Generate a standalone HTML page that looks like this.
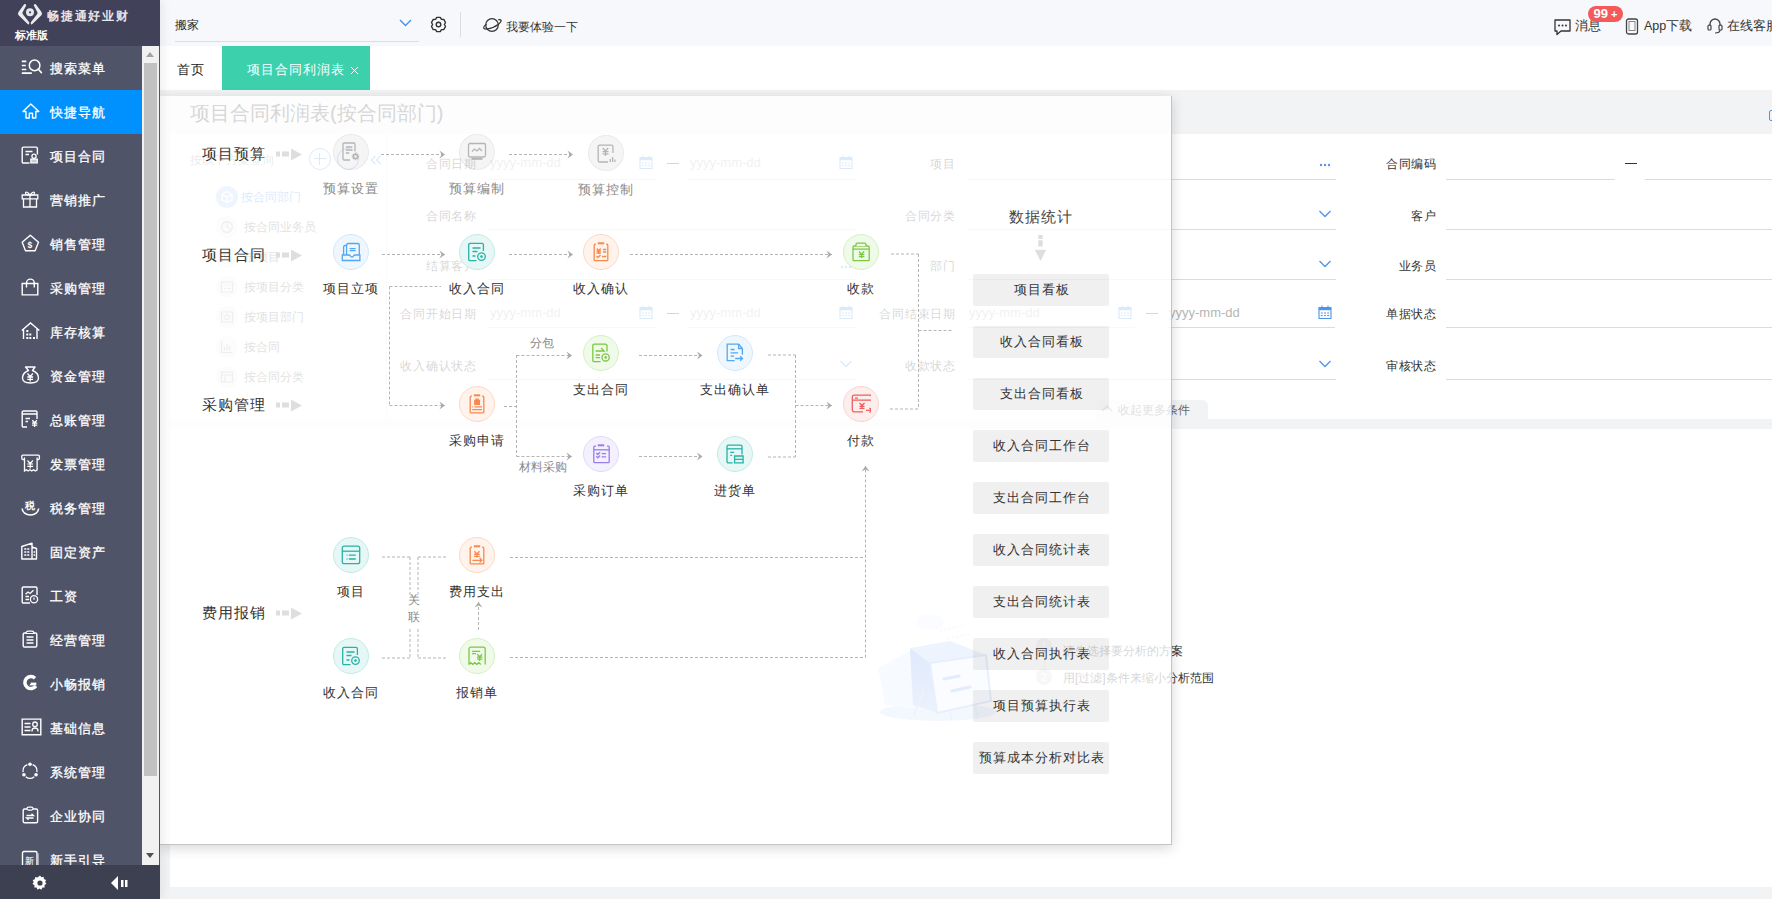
<!DOCTYPE html><html><head><meta charset="utf-8"><title>项目合同利润表</title><style>
*{box-sizing:border-box;margin:0;padding:0}
html,body{width:1772px;height:899px;overflow:hidden;background:#fff;font-family:"Liberation Sans",sans-serif;color:#333}
.a{position:absolute}
.t{position:absolute;white-space:nowrap;line-height:1}
#side{position:absolute;left:0;top:0;width:160px;height:899px;background:#505468;z-index:5;box-shadow:2px 0 10px rgba(0,0,0,0.08)}
#side .hd{position:absolute;left:0;top:0;width:160px;height:46px;background:#41425a}
#side .ft{position:absolute;left:0;top:865px;width:160px;height:34px;background:#3c4050}
.mi{position:absolute;left:0;width:142px;height:44px;color:#fff;font-size:13px;letter-spacing:1px;-webkit-text-stroke:0.3px #fff}
.mi span{position:absolute;left:50px;top:16px;line-height:13px}
.mi svg{position:absolute;left:21px;top:12px;overflow:visible}
.mi.on{background:#0091ff}
#sb{position:absolute;left:142px;top:46px;width:17px;height:819px;background:#f1f1f1}
#top{position:absolute;left:160px;top:0;width:1612px;height:46px;background:#f7f8fb}
#tabs{position:absolute;left:160px;top:46px;width:1612px;height:44px;background:#fff}
#content{position:absolute;left:160px;top:90px;width:1612px;height:809px;background:#f2f3f5}
.lbl{position:absolute;white-space:nowrap;line-height:12px;font-size:12px;letter-spacing:0.7px;color:#333;text-align:right}
.ul{position:absolute;height:1px;background:#dcdcdc}
.ph{position:absolute;white-space:nowrap;line-height:14px;font-size:13px;color:#b5b5b5}
#modal{position:absolute;left:160px;top:96px;width:1012px;height:749px;background:rgba(255,255,255,0.8);border-right:1px solid #c4c4c4;border-bottom:1px solid #c4c4c4;box-shadow:0 3px 12px rgba(0,0,0,0.16);z-index:3}
.node{position:absolute;width:36px;height:36px;border-radius:50%}
.node svg{position:absolute;left:8px;top:8px}
.nl{position:absolute;white-space:nowrap;line-height:14px;font-size:13px;letter-spacing:1px;padding-left:1px;color:#333;text-align:center;width:100px}
.rl{position:absolute;white-space:nowrap;line-height:16px;font-size:15px;letter-spacing:1px;color:#333}
.btn{position:absolute;left:812px;width:136px;height:32px;background:rgba(0,0,0,0.06);border-radius:2px;font-size:13px;letter-spacing:1px;padding-left:1px;color:#333;text-align:center;line-height:32px;white-space:nowrap}
</style></head><body>
<div id="side"><div class="hd">
<svg class="a" style="left:17px;top:3px" width="26" height="22" viewBox="0 0 26 22"><path d="M7.2 1.2Q8.6 0.6 9.3 2.2L5.6 9.2Q5.1 10.3 5.9 11.3L12.3 19.6 12 21.3Q11.3 21.6 10.6 21L1.6 12.2Q0.4 10.6 1.5 8.9z" fill="#ececef"/><path d="M18.8 1.2Q17.4 0.6 16.7 2.2L20.4 9.2Q20.9 10.3 20.1 11.3L13.7 19.6 14 21.3Q14.7 21.6 15.4 21L24.4 12.2Q25.6 10.6 24.5 8.9z" fill="#ececef"/><circle cx="13" cy="9.3" r="4" fill="#e6e6ea"/><circle cx="13" cy="9.3" r="1.1" fill="#41425a"/></svg>
<div class="t" style="left:47px;top:10px;font-size:12px;color:#e6e6ea;font-weight:bold;letter-spacing:1.8px">畅捷通好业财</div>
<div class="t" style="left:15px;top:30px;font-size:10.5px;color:#fff;font-weight:bold">标准版</div>
</div>
<div class="a" style="left:0;top:46px;width:142px;height:819px;overflow:hidden">
<div class="mi" style="top:0px"><svg width="20" height="20" viewBox="0 0 20 20"><path d="M0.8 3.4h4.5M0.8 7.5h4M0.8 11.5h4.5M0.8 15.1h10" stroke="#fff" stroke-width="1.6"/><circle cx="13.6" cy="7.4" r="5.3" fill="none" stroke="#fff" stroke-width="1.5"/><path d="M17.4 11.3l3 3.3" stroke="#fff" stroke-width="1.6" stroke-linecap="round"/></svg><span>搜索菜单</span></div>
<div class="mi on" style="top:44px"><svg width="20" height="20" viewBox="0 0 20 20"><path d="M9.8 2L2 9.5h3V16h3.3v-4.8h3.2V16h3.3V9.5h3z" fill="none" stroke="#fff" stroke-width="1.4" stroke-linejoin="round"/></svg><span>快捷导航</span></div>
<div class="mi" style="top:88px"><svg width="20" height="20" viewBox="0 0 20 20"><path d="M8.5 17H2.5q-1.3 0-1.3-1.3V2.4q0-1.3 1.3-1.3h12.6q1.3 0 1.3 1.3v6" fill="none" stroke="#fff" stroke-width="1.4"/><path d="M4.5 5.5h7M4.5 8.5h3.5" stroke="#fff" stroke-width="1.4"/><circle cx="13" cy="10.2" r="2.1" fill="none" stroke="#fff" stroke-width="1.3"/><path d="M9.8 13.2h6.5v3.6H9.8z" fill="#c9cad3" stroke="#fff" stroke-width="1.2"/></svg><span>项目合同</span></div>
<div class="mi" style="top:132px"><svg width="20" height="20" viewBox="0 0 20 20"><path d="M1.2 5h15.6v3.8H1.2zM2.5 8.8V17h13V8.8M9 5v12" fill="none" stroke="#fff" stroke-width="1.3"/><path d="M9 5C7 2 4.5 1.2 4.5 3.2 4.5 4.5 6.5 5 9 5c2.5 0 4.5-.5 4.5-1.8 0-2-2.5-1.2-4.5 1.8z" fill="none" stroke="#fff" stroke-width="1.2"/></svg><span>营销推广</span></div>
<div class="mi" style="top:176px"><svg width="20" height="20" viewBox="0 0 20 20"><path d="M9.3 1.2L1.2 8.3 4.5 16.8h9.6l3.4-8.5z" fill="none" stroke="#fff" stroke-width="1.4" stroke-linejoin="round"/><text x="9.3" y="13.5" font-size="8.5" text-anchor="middle" fill="#fff" font-family="Liberation Sans" font-weight="bold">$</text></svg><span>销售管理</span></div>
<div class="mi" style="top:220px"><svg width="20" height="20" viewBox="0 0 20 20"><path d="M1.2 5.5h15.6v11.4H1.2z" fill="none" stroke="#fff" stroke-width="1.4"/><path d="M5.5 9.5V5a3.9 3.9 0 0 1 7.8 0v4.5" fill="none" stroke="#fff" stroke-width="1.4"/></svg><span>采购管理</span></div>
<div class="mi" style="top:264px"><svg width="20" height="20" viewBox="0 0 20 20"><path d="M0.8 8.5L9.5 1l8.9 7.5M2.5 7v10M16 7v10" fill="none" stroke="#fff" stroke-width="1.4"/><path d="M5.3 8h2v2h-2zM5.3 11.5h2v2h-2zM8.3 11.5h2v2h-2zM5.3 15h2v2h-2zM8.3 15h2v2h-2zM12 15h2v2h-2z" fill="#fff"/></svg><span>库存核算</span></div>
<div class="mi" style="top:308px"><svg width="20" height="20" viewBox="0 0 20 20"><path d="M4.5 1h9.5l-2.5 3.5c4 1.5 6 4.5 6 7.5 0 3-2 5-8 5s-8-2-8-5c0-3 2-6 6-7.5z" fill="none" stroke="#fff" stroke-width="1.4" stroke-linejoin="round"/><path d="M6.5 7.5l2.7 3 2.7-3M6.3 11h5.8M6.3 13.3h5.8M9.2 10.5v5" fill="none" stroke="#fff" stroke-width="1.3"/></svg><span>资金管理</span></div>
<div class="mi" style="top:352px"><svg width="20" height="20" viewBox="0 0 20 20"><path d="M6 17H2.5q-1.3 0-1.3-1.3V2.3Q1.2 1 2.5 1h12.2Q16 1 16 2.3V9" fill="none" stroke="#fff" stroke-width="1.4"/><path d="M1.2 4h14.8M4.5 8.5h4.5M4.5 11.5h2.5" stroke="#fff" stroke-width="1.3"/><path d="M11.3 10.3l2.3 2.5 2.3-2.5M11 13.2h5.3M11 15.2h5.3M13.6 12.8v4.2" fill="none" stroke="#fff" stroke-width="1.3"/></svg><span>总账管理</span></div>
<div class="mi" style="top:396px"><svg width="20" height="20" viewBox="0 0 20 20"><path d="M3 5.5H1.8q-1-.2-1-1.2V2.2q0-1.1 1-1.1h15.6q1 0 1 1.1v2.1q0 1-1 1.2H16" fill="none" stroke="#fff" stroke-width="1.3"/><path d="M3.5 3.5v13.5l1.8-1.2 1.8 1.2 1.8-1.2 1.8 1.2 1.8-1.2 1.8 1.2 1.8-1.2V3.5" fill="none" stroke="#fff" stroke-width="1.3"/><path d="M6.5 6.5l2.7 3 2.7-3M6.3 10h5.8M6.3 12.3h5.8M9.2 9.5v5" fill="none" stroke="#fff" stroke-width="1.2"/></svg><span>发票管理</span></div>
<div class="mi" style="top:440px"><svg width="20" height="20" viewBox="0 0 20 20"><path d="M1.2 10.5a8.2 6.5 0 0 0 16.4 0" fill="none" stroke="#fff" stroke-width="1.6"/><text x="9.4" y="10.5" font-size="10" text-anchor="middle" fill="#fff" font-weight="bold">税</text></svg><span>税务管理</span></div>
<div class="mi" style="top:484px"><svg width="20" height="20" viewBox="0 0 20 20"><path d="M0.8 4.5L11 1.2V17H0.8zM11 5l4.5 1.5V17H11" fill="none" stroke="#fff" stroke-width="1.4" stroke-linejoin="round"/><path d="M3.3 6.2h2v1.6h-2zM6.3 6.2h2v1.6h-2zM3.3 9.2h2v1.6h-2zM6.3 9.2h2v1.6h-2zM3.3 12.2h2v1.6h-2zM6.3 12.2h2v1.6h-2zM12.5 9.2h1.6v1.6h-1.6zM12.5 12.2h1.6v1.6h-1.6z" fill="#fff"/></svg><span>固定资产</span></div>
<div class="mi" style="top:528px"><svg width="20" height="20" viewBox="0 0 20 20"><path d="M9 17H2.5q-1.3 0-1.3-1.3V2.3Q1.2 1 2.5 1h12.2Q16 1 16 2.3V9" fill="none" stroke="#fff" stroke-width="1.4"/><path d="M4.5 8.2l2.5-2.2 2 1.5 3.5-3.2M4.5 10.5h3.5M4.5 13.5h3.5" fill="none" stroke="#fff" stroke-width="1.3"/><circle cx="13" cy="13.3" r="3.6" fill="#505468" stroke="#fff" stroke-width="1.3"/><path d="M13 11.6v2.2" stroke="#fff" stroke-width="1.2"/></svg><span>工资</span></div>
<div class="mi" style="top:572px"><svg width="20" height="20" viewBox="0 0 20 20"><path d="M5 3H3.5q-1.3 0-1.3 1.3v11.4q0 1.3 1.3 1.3h11q1.3 0 1.3-1.3V4.3Q15.8 3 14.5 3H13" fill="none" stroke="#fff" stroke-width="1.4"/><path d="M5 3.5q0-2.3 2-2.3h4q2 0 2 2.3z" fill="none" stroke="#fff" stroke-width="1.2"/><path d="M5.5 7h7M5.5 10h7M5.5 13h7" stroke="#fff" stroke-width="1.4"/></svg><span>经营管理</span></div>
<div class="mi" style="top:616px"><svg width="20" height="20" viewBox="0 0 20 20"><path d="M14 4.2A6 6 0 1 0 14.8 12" fill="none" stroke="#fff" stroke-width="3.6"/><path d="M8.5 10h6.8" stroke="#fff" stroke-width="2.8"/><path d="M5.8 9l2.2-2.2 2.2 2.2-2.2 2.2z" fill="#505468"/></svg><span>小畅报销</span></div>
<div class="mi" style="top:660px"><svg width="20" height="20" viewBox="0 0 20 20"><path d="M1.2 1.1h18.6v15.6H1.2z" fill="none" stroke="#fff" stroke-width="1.4"/><path d="M3.5 5.5h6M3.5 9h6M3.5 12.5h6" stroke="#fff" stroke-width="1.4"/><circle cx="14" cy="6.3" r="2.3" fill="none" stroke="#fff" stroke-width="1.3"/><path d="M11 13.5v-.5q0-3 3-3t3 3v.5" fill="none" stroke="#fff" stroke-width="1.3"/></svg><span>基础信息</span></div>
<div class="mi" style="top:704px"><svg width="20" height="20" viewBox="0 0 20 20"><path d="M11.62 2.71A7 7 0 0 1 15.93 10.17M13.31 14.72A7 7 0 0 1 4.69 14.72M2.07 10.17A7 7 0 0 1 6.38 2.71" fill="none" stroke="#fff" stroke-width="1.3"/><circle cx="9" cy="2.2" r="1.8" fill="#fff"/><circle cx="2.94" cy="12.7" r="1.8" fill="#fff"/><circle cx="15.06" cy="12.7" r="1.8" fill="#fff"/></svg><span>系统管理</span></div>
<div class="mi" style="top:748px"><svg width="20" height="20" viewBox="0 0 20 20"><path d="M6 3H3.5q-1.3 0-1.3 1.3v11.2q0 1.2 1.3 1.2h11.8q1.3 0 1.3-1.2V4.3Q16.6 3 15.3 3H12" fill="none" stroke="#fff" stroke-width="1.4"/><path d="M7.5 1.1h3q1.5 0 1.5 1.5t-1.5 1.5h-3Q6 4.1 6 2.6t1.5-1.5z" fill="none" stroke="#fff" stroke-width="1.2"/><path d="M5.5 9.5h7l-2-1.8M12.5 12h-7l2 1.8" fill="none" stroke="#fff" stroke-width="1.3"/></svg><span>企业协同</span></div>
<div class="mi" style="top:792px"><svg width="20" height="20" viewBox="0 0 20 20"><path d="M3 1.5h11.5q1.5 0 1.5 1.5v14H3q-1.5 0-1.5-1.5V3q0-1.5 1.5-1.5z" fill="none" stroke="#fff" stroke-width="1.4"/><path d="M16 3.5h1.2v14" fill="none" stroke="#c9cad3" stroke-width="1"/><text x="8.8" y="13.5" font-size="8.5" text-anchor="middle" fill="#d8d9e0" font-weight="bold">新</text></svg><span>新手引导</span></div>
</div>
<div id="sb"><div class="a" style="left:2px;top:17px;width:13px;height:713px;background:#c1c1c1"></div>
<svg class="a" style="left:3px;top:5px" width="10" height="6"><path d="M1 6L5 1l4 5z" fill="#a3a3a3"/></svg>
<svg class="a" style="left:3px;top:807px" width="10" height="6"><path d="M1 0h8L5 5z" fill="#505050"/></svg></div>
<div class="ft">
<svg class="a" style="left:32px;top:10px" width="16" height="16" viewBox="0 0 16 16"><path d="M8 0.5l1.4 1.8 2.2-.6.3 2.3 2.2.9-1 2.1 1.3 1.8-1.9 1.3.2 2.3-2.3.2-1 2.1-1.9-1.3-1.9 1.3-1-2.1-2.3-.2.2-2.3L.4 9l1.3-1.8-1-2.1 2.2-.9.3-2.3 2.2.6z" fill="#fff"/><circle cx="8" cy="8" r="2.6" fill="#3c4050"/></svg>
<svg class="a" style="left:110px;top:10px" width="20" height="16" viewBox="0 0 20 16"><path d="M1 8L8 1v14z" fill="#fff"/><path d="M11 5h2.5v7H11zM15 5h2.5v7H15z" fill="#fff"/></svg>
</div></div>
<div id="top">
<div class="t" style="left:15px;top:19px;font-size:12px;color:#222">搬家</div>
<div class="a" style="left:15px;top:41px;width:244px;height:1px;background:#dcdde2"></div>
<svg class="a" style="left:239px;top:19px" width="13" height="8" viewBox="0 0 13 8"><path d="M1 1l5.5 5.5L12 1" fill="none" stroke="#4a90e2" stroke-width="1.4"/></svg>
<svg class="a" style="left:270px;top:16px" width="17" height="17" viewBox="0 0 17 17"><path d="M5.55 3.39 L6.73 1.42 L10.27 1.42 L11.45 3.39 L13.75 3.43 L15.52 6.49 L14.40 8.50 L15.52 10.51 L13.75 13.57 L11.45 13.61 L10.27 15.58 L6.73 15.58 L5.55 13.61 L3.25 13.57 L1.48 10.51 L2.60 8.50 L1.48 6.49 L3.25 3.43z" fill="none" stroke="#333" stroke-width="1.4" stroke-linejoin="round"/><circle cx="8.5" cy="8.5" r="2.3" fill="none" stroke="#333" stroke-width="1.4"/></svg>
<div class="a" style="left:300px;top:12px;width:1px;height:25px;background:#dcdde2"></div>
<svg class="a" style="left:322px;top:17px" width="21" height="16" viewBox="0 0 21 16"><circle cx="10" cy="8" r="6.3" fill="none" stroke="#333" stroke-width="1.2"/><path d="M4.2 7.5C0.5 10 0.8 12.5 5 12c3.5-.4 8.5-2.5 11.5-4.8 3.5-2.7 3.6-4.8.2-4.6" fill="none" stroke="#333" stroke-width="1.2" stroke-linecap="round"/></svg>
<div class="t" style="left:346px;top:20.5px;font-size:12px;color:#333">我要体验一下</div>
<svg class="a" style="left:1394px;top:19px" width="17" height="17" viewBox="0 0 17 17"><path d="M1 1h15v11H7l-4 3.5V12H1z" fill="none" stroke="#333" stroke-width="1.3" stroke-linejoin="round"/><circle cx="5" cy="6.5" r="1" fill="#333"/><circle cx="8.5" cy="6.5" r="1" fill="#333"/><circle cx="12" cy="6.5" r="1" fill="#333"/></svg>
<div class="t" style="left:1415px;top:20px;font-size:12.5px;color:#333">消息</div>
<div class="a" style="left:1428px;top:6px;width:35px;height:16px;border-radius:8px;background:#f45a5a;color:#fff;font-size:11px;font-weight:bold;line-height:16px;text-align:center;white-space:nowrap"><span style="font-size:13px">99</span> <span style="font-size:11px">+</span></div>
<svg class="a" style="left:1465px;top:18px" width="14" height="17" viewBox="0 0 14 17"><rect x="1.5" y="1" width="11" height="15" rx="2" fill="none" stroke="#444" stroke-width="1.3"/><rect x="4" y="3.5" width="6" height="9" fill="none" stroke="#888" stroke-width="1"/></svg>
<div class="t" style="left:1484px;top:20px;font-size:12.5px;color:#333">App下载</div>
<svg class="a" style="left:1547px;top:17px" width="16" height="17" viewBox="0 0 16 17"><path d="M3 9V7a5 5 0 0 1 10 0v2" fill="none" stroke="#444" stroke-width="1.3"/><rect x="1" y="8" width="3" height="5" rx="1" fill="none" stroke="#444" stroke-width="1.2"/><rect x="12" y="8" width="3" height="5" rx="1" fill="none" stroke="#444" stroke-width="1.2"/><path d="M13 13c0 2-2 3-5 3" fill="none" stroke="#444" stroke-width="1.2"/></svg>
<div class="t" style="left:1567px;top:20px;font-size:12.5px;color:#333">在线客服</div>
</div>
<div id="tabs">
<div class="t" style="left:17px;top:16.5px;font-size:13px;letter-spacing:1px;color:#222">首页</div>
<div class="a" style="left:62px;top:0;width:148px;height:44px;background:#3dd0ac"></div>
<div class="t" style="left:87px;top:16.5px;font-size:13px;letter-spacing:1px;color:#fff">项目合同利润表</div>
<svg class="a" style="left:190px;top:20px" width="9" height="9" viewBox="0 0 9 9"><path d="M1 1l7 7M8 1L1 8" stroke="#fff" stroke-width="1"/></svg>
</div>
<div id="content">
<div class="t" style="left:30px;top:13px;font-size:20px;color:#333">项目合同利润表(按合同部门)</div>
<div class="a" style="left:1609px;top:20px;width:8px;height:11px;border:1.5px solid #4d94ea;border-radius:2px"></div>
<div class="a" style="left:10px;top:44px;width:1602px;height:285px;background:#fff"></div>
<div class="a" style="left:10px;top:339px;width:1602px;height:458px;background:#fff"></div>
<div class="t" style="left:30px;top:63.5px;font-size:12px;line-height:12px;color:#999">按以下方案查询</div>
<div class="a" style="left:149px;top:58px;width:22px;height:22px;border-radius:50%;border:1px solid #4a90e2"></div>
<div class="a" style="left:154px;top:68px;width:12px;height:1px;background:#4a90e2"></div><div class="a" style="left:159px;top:63px;width:1px;height:12px;background:#4a90e2"></div>
<div class="a" style="left:177px;top:58px;width:22px;height:22px;border-radius:50%;border:1px solid #4a90e2"></div>
<svg class="a" style="left:210px;top:65px" width="12" height="10" viewBox="0 0 12 10"><path d="M5.5 1L1.5 5l4 4M10.5 1l-4 4 4 4" fill="none" stroke="#4a90e2" stroke-width="1.1"/></svg>
<div class="a" style="left:226px;top:44px;width:1px;height:285px;background:#e8e8e8"></div>
<div class="a" style="left:56px;top:96px;width:22px;height:22px;border-radius:50%;background:#a9cdf6"></div>
<svg class="a" style="left:60px;top:100px" width="14" height="14" viewBox="0 0 14 14"><path d="M7 1.5l5 2.8v5.6L7 12.5 2 9.9V4.3z M2 4.3l5 2.8 5-2.8 M7 7.1v5.4" fill="none" stroke="#fff" stroke-width="1.4"/></svg>
<div class="t" style="left:81px;top:101px;font-size:12px;color:#4a90e2;line-height:12px">按合同部门</div>
<div class="a" style="left:56px;top:126px;width:22px;height:22px;border-radius:50%;background:#eeeeee"></div>
<svg class="a" style="left:60px;top:130px" width="14" height="14" viewBox="0 0 14 14"><circle cx="7" cy="7" r="5.3" fill="none" stroke="#aaa" stroke-width="1.2"/><path d="M7 7V1.7M7 7l3.5 2" fill="none" stroke="#aaa" stroke-width="1.2"/></svg>
<div class="t" style="left:84px;top:131px;font-size:12px;color:#666;line-height:12px">按合同业务员</div>
<div class="a" style="left:56px;top:156px;width:22px;height:22px;border-radius:50%;background:#eeeeee"></div>
<svg class="a" style="left:60px;top:160px" width="14" height="14" viewBox="0 0 14 14"><circle cx="7" cy="5" r="2.5" fill="none" stroke="#aaa" stroke-width="1.2"/><path d="M2.5 12.5c0-3 2-4.5 4.5-4.5s4.5 1.5 4.5 4.5" fill="none" stroke="#aaa" stroke-width="1.2"/></svg>
<div class="t" style="left:84px;top:161px;font-size:12px;color:#666;line-height:12px">按项目</div>
<div class="a" style="left:56px;top:186px;width:22px;height:22px;border-radius:50%;background:#eeeeee"></div>
<svg class="a" style="left:60px;top:190px" width="14" height="14" viewBox="0 0 14 14"><path d="M1.5 2h11v10h-11z M4 5h1.5M4 8.5h1.5M7 5h3M7 8.5h3" fill="none" stroke="#aaa" stroke-width="1.2"/></svg>
<div class="t" style="left:84px;top:191px;font-size:12px;color:#666;line-height:12px">按项目分类</div>
<div class="a" style="left:56px;top:216px;width:22px;height:22px;border-radius:50%;background:#eeeeee"></div>
<svg class="a" style="left:60px;top:220px" width="14" height="14" viewBox="0 0 14 14"><path d="M1.5 2h11v10h-11z" fill="none" stroke="#aaa" stroke-width="1.2"/><path d="M7 3.8l1 2.1 2.2.3-1.6 1.5.4 2.2L7 8.9 5 9.9l.4-2.2L3.8 6.2 6 5.9z" fill="none" stroke="#aaa" stroke-width="1"/></svg>
<div class="t" style="left:84px;top:221px;font-size:12px;color:#666;line-height:12px">按项目部门</div>
<div class="a" style="left:56px;top:246px;width:22px;height:22px;border-radius:50%;background:#eeeeee"></div>
<svg class="a" style="left:60px;top:250px" width="14" height="14" viewBox="0 0 14 14"><path d="M1.5 1.5v11h11 M4.5 10.5V7M7 10.5V4.5M9.5 10.5V6" fill="none" stroke="#aaa" stroke-width="1.2"/></svg>
<div class="t" style="left:84px;top:251px;font-size:12px;color:#666;line-height:12px">按合同</div>
<div class="a" style="left:56px;top:276px;width:22px;height:22px;border-radius:50%;background:#eeeeee"></div>
<svg class="a" style="left:60px;top:280px" width="14" height="14" viewBox="0 0 14 14"><path d="M1.5 2h11v10h-11z M1.5 5h11M5 5v7" fill="none" stroke="#aaa" stroke-width="1.2"/></svg>
<div class="t" style="left:84px;top:281px;font-size:12px;color:#666;line-height:12px">按合同分类</div>
<div class="lbl" style="left:116px;top:68px;width:200.7px">合同日期</div>
<div class="lbl" style="left:116px;top:120px;width:200.7px">合同名称</div>
<div class="lbl" style="left:116px;top:170px;width:200.7px">结算客户</div>
<div class="lbl" style="left:116px;top:218px;width:200.7px">合同开始日期</div>
<div class="lbl" style="left:116px;top:270px;width:200.7px">收入确认状态</div>
<div class="lbl" style="left:595px;top:68px;width:200.7px">项目</div>
<div class="lbl" style="left:595px;top:120px;width:200.7px">合同分类</div>
<div class="lbl" style="left:595px;top:170px;width:200.7px">部门</div>
<div class="lbl" style="left:595px;top:218px;width:200.7px">合同结束日期</div>
<div class="lbl" style="left:595px;top:270px;width:200.7px">收款状态</div>
<div class="lbl" style="left:1076px;top:68px;width:200.7px">合同编码</div>
<div class="lbl" style="left:1076px;top:120px;width:200.7px">客户</div>
<div class="lbl" style="left:1076px;top:170px;width:200.7px">业务员</div>
<div class="lbl" style="left:1076px;top:218px;width:200.7px">单据状态</div>
<div class="lbl" style="left:1076px;top:270px;width:200.7px">审核状态</div>
<div class="ph" style="left:330px;top:66px">yyyy-mm-dd</div>
<div class="a" style="left:479px;top:65px;line-height:0"><svg width="14" height="14" viewBox="0 0 14 14"><path d="M1 2.5h12v11H1z" fill="none" stroke="#4d94ea" stroke-width="1.1"/><path d="M1 3h12v2.2H1z" fill="#4d94ea"/><path d="M4 0.5v3M10 0.5v3M2.8 8h2M6 8h2M9.2 8h2M2.8 10.6h2M6 10.6h2M9.2 10.6h2" stroke="#4d94ea" stroke-width="1"/></svg></div>
<div class="ul" style="left:328px;top:89px;width:168px"></div>
<div class="a" style="left:507px;top:73px;width:12px;height:1px;background:#333"></div>
<div class="ph" style="left:530px;top:66px">yyyy-mm-dd</div>
<div class="a" style="left:679px;top:65px;line-height:0"><svg width="14" height="14" viewBox="0 0 14 14"><path d="M1 2.5h12v11H1z" fill="none" stroke="#4d94ea" stroke-width="1.1"/><path d="M1 3h12v2.2H1z" fill="#4d94ea"/><path d="M4 0.5v3M10 0.5v3M2.8 8h2M6 8h2M9.2 8h2M2.8 10.6h2M6 10.6h2M9.2 10.6h2" stroke="#4d94ea" stroke-width="1"/></svg></div>
<div class="ul" style="left:528px;top:89px;width:168px"></div>
<div class="ul" style="left:807px;top:89px;width:369px"></div>
<div class="a" style="left:1158px;top:72px;line-height:0"><svg width="14" height="4" viewBox="0 0 14 4"><circle cx="3" cy="2" r="1.2" fill="#5b8ff0"/><circle cx="7" cy="2" r="1.2" fill="#5b8ff0"/><circle cx="11" cy="2" r="1.2" fill="#5b8ff0"/></svg></div>
<div class="ul" style="left:1286px;top:89px;width:169px"></div>
<div class="ul" style="left:1485px;top:89px;width:127px"></div>
<div class="a" style="left:1465px;top:73px;width:12px;height:1px;background:#333"></div>
<div class="ul" style="left:328px;top:139px;width:368px"></div>
<div class="ul" style="left:807px;top:139px;width:369px"></div>
<div class="a" style="left:1158px;top:120px;line-height:0"><svg width="14" height="8" viewBox="0 0 14 8"><path d="M1.5 1l5.5 5.5 5.5-5.5" fill="none" stroke="#4d94ea" stroke-width="1.3"/></svg></div>
<div class="ul" style="left:1286px;top:139px;width:326px"></div>
<div class="ul" style="left:328px;top:189px;width:368px"></div>
<div class="a" style="left:679px;top:174px;line-height:0"><svg width="14" height="4" viewBox="0 0 14 4"><circle cx="3" cy="2" r="1.2" fill="#5b8ff0"/><circle cx="7" cy="2" r="1.2" fill="#5b8ff0"/><circle cx="11" cy="2" r="1.2" fill="#5b8ff0"/></svg></div>
<div class="ul" style="left:807px;top:189px;width:369px"></div>
<div class="a" style="left:1158px;top:170px;line-height:0"><svg width="14" height="8" viewBox="0 0 14 8"><path d="M1.5 1l5.5 5.5 5.5-5.5" fill="none" stroke="#4d94ea" stroke-width="1.3"/></svg></div>
<div class="ul" style="left:1286px;top:189px;width:326px"></div>
<div class="ph" style="left:330px;top:216px">yyyy-mm-dd</div>
<div class="a" style="left:479px;top:215px;line-height:0"><svg width="14" height="14" viewBox="0 0 14 14"><path d="M1 2.5h12v11H1z" fill="none" stroke="#4d94ea" stroke-width="1.1"/><path d="M1 3h12v2.2H1z" fill="#4d94ea"/><path d="M4 0.5v3M10 0.5v3M2.8 8h2M6 8h2M9.2 8h2M2.8 10.6h2M6 10.6h2M9.2 10.6h2" stroke="#4d94ea" stroke-width="1"/></svg></div>
<div class="ul" style="left:328px;top:237px;width:168px"></div>
<div class="a" style="left:507px;top:223px;width:12px;height:1px;background:#333"></div>
<div class="ph" style="left:530px;top:216px">yyyy-mm-dd</div>
<div class="a" style="left:679px;top:215px;line-height:0"><svg width="14" height="14" viewBox="0 0 14 14"><path d="M1 2.5h12v11H1z" fill="none" stroke="#4d94ea" stroke-width="1.1"/><path d="M1 3h12v2.2H1z" fill="#4d94ea"/><path d="M4 0.5v3M10 0.5v3M2.8 8h2M6 8h2M9.2 8h2M2.8 10.6h2M6 10.6h2M9.2 10.6h2" stroke="#4d94ea" stroke-width="1"/></svg></div>
<div class="ul" style="left:528px;top:237px;width:168px"></div>
<div class="ph" style="left:809px;top:216px">yyyy-mm-dd</div>
<div class="a" style="left:958px;top:215px;line-height:0"><svg width="14" height="14" viewBox="0 0 14 14"><path d="M1 2.5h12v11H1z" fill="none" stroke="#4d94ea" stroke-width="1.1"/><path d="M1 3h12v2.2H1z" fill="#4d94ea"/><path d="M4 0.5v3M10 0.5v3M2.8 8h2M6 8h2M9.2 8h2M2.8 10.6h2M6 10.6h2M9.2 10.6h2" stroke="#4d94ea" stroke-width="1"/></svg></div>
<div class="ul" style="left:807px;top:237px;width:168px"></div>
<div class="a" style="left:986px;top:223px;width:12px;height:1px;background:#333"></div>
<div class="ph" style="left:1009px;top:216px">yyyy-mm-dd</div>
<div class="a" style="left:1158px;top:215px;line-height:0"><svg width="14" height="14" viewBox="0 0 14 14"><path d="M1 2.5h12v11H1z" fill="none" stroke="#4d94ea" stroke-width="1.1"/><path d="M1 3h12v2.2H1z" fill="#4d94ea"/><path d="M4 0.5v3M10 0.5v3M2.8 8h2M6 8h2M9.2 8h2M2.8 10.6h2M6 10.6h2M9.2 10.6h2" stroke="#4d94ea" stroke-width="1"/></svg></div>
<div class="ul" style="left:1007px;top:237px;width:168px"></div>
<div class="ul" style="left:1286px;top:237px;width:326px"></div>
<div class="ul" style="left:328px;top:289px;width:368px"></div>
<div class="a" style="left:679px;top:270px;line-height:0"><svg width="14" height="8" viewBox="0 0 14 8"><path d="M1.5 1l5.5 5.5 5.5-5.5" fill="none" stroke="#4d94ea" stroke-width="1.3"/></svg></div>
<div class="ul" style="left:807px;top:289px;width:369px"></div>
<div class="a" style="left:1158px;top:270px;line-height:0"><svg width="14" height="8" viewBox="0 0 14 8"><path d="M1.5 1l5.5 5.5 5.5-5.5" fill="none" stroke="#4d94ea" stroke-width="1.3"/></svg></div>
<div class="ul" style="left:1286px;top:289px;width:326px"></div>
<div class="a" style="left:936px;top:310px;width:112px;height:20px;background:#f2f3f5;border-radius:6px 6px 0 0"></div>
<svg class="a" style="left:941px;top:314px" width="12" height="8" viewBox="0 0 12 8"><path d="M1 7l5-5 5 5M1 4" fill="none" stroke="#999" stroke-width="1.2"/></svg>
<div class="t" style="left:958px;top:314px;font-size:12px;color:#666">收起更多条件</div>
<svg class="a" style="left:710px;top:515px" width="135" height="120" viewBox="870 605 135 120"><defs><linearGradient id="gl" x1="0" y1="0" x2="0" y2="1"><stop offset="0" stop-color="#5f93ee"/><stop offset="1" stop-color="#9fbff4"/></linearGradient></defs><ellipse cx="938" cy="712" rx="58" ry="9" fill="#c3d8fa"/><path d="M878 668L912 650 935 712 885 705z" fill="#d5e4fb"/><path d="M910 648L950 641 986 655 930 663z" fill="#a9c6f5"/><path d="M910 648L930 663 937 713 913 705z" fill="url(#gl)"/><path d="M930 663L986 655 991 701 937 713z" fill="#e6effd" stroke="#8db3f2" stroke-width="2"/><path d="M944 679l15-3M952 691l18-4" stroke="#6f9ff0" stroke-width="3" stroke-linecap="round"/><path d="M924 690l-10 25M975 705l3 14M950 712l2 8" stroke="#a6c3f4" stroke-width="2"/><path d="M940 631l25-6M948 639l22-5" stroke="#c9dbf9" stroke-width="1.5" stroke-dasharray="2 2"/><ellipse cx="930" cy="622" rx="14" ry="8" fill="#e6effd"/></svg>
<div class="a" style="left:884px;top:562px;width:1px;height:18px;background:#ddd"></div>
<div class="a" style="left:876px;top:548px;width:16px;height:16px;border-radius:50%;background:#d5d5d5;color:#fff;font-size:11px;line-height:16px;text-align:center">1</div>
<div class="a" style="left:876px;top:579px;width:16px;height:16px;border-radius:50%;background:#d5d5d5;color:#fff;font-size:11px;line-height:16px;text-align:center">2</div>
<div class="t" style="left:903px;top:555px;font-size:12px;color:#333">请先选择要分析的方案</div>
<div class="t" style="left:903px;top:582px;font-size:12px;color:#333">用[过滤]条件来缩小分析范围</div>
</div>
<div id="modal">
<svg class="a" style="left:0;top:0" width="1012" height="749" viewBox="160 96 1012 749"><g fill="none" stroke="#b4b4b4" stroke-width="1" stroke-dasharray="3 2"><path d="M381 154.5H445"/><path d="M509 154.5H573"/><path d="M382 254.5H445"/><path d="M509 254.5H573"/><path d="M630 254.5H832"/><path d="M891 254H918.5"/><path d="M918.5 254V409"/><path d="M890 409H918.5"/><path d="M918.5 330.5H952"/><path d="M389.5 286.5H441"/><path d="M389.5 286.5V405.5"/><path d="M389.5 405.5H445"/><path d="M504 406.5H516.5"/><path d="M516.5 355V456.5"/><path d="M516.5 355.5H572"/><path d="M516.5 456.5H572"/><path d="M639 355.5H702.5"/><path d="M639 456.5H702.5"/><path d="M768 355H795.5"/><path d="M795.5 355V457"/><path d="M768 457H795.5"/><path d="M795.5 405.5H832"/><path d="M382 557H410"/><path d="M410 557V597"/><path d="M410 629V658"/><path d="M382 658H410"/><path d="M418 557H446"/><path d="M418 557V597"/><path d="M418 629V658"/><path d="M418 658H446"/><path d="M478.5 630V602"/><path d="M510 557.5H865.5"/><path d="M510 657.5H865.5"/><path d="M865.5 657.5V466"/></g><g fill="#aaa" stroke="none"><path d="M439.5 150.5L445 154.5L439.5 158.5L441.5 154.5z"/><path d="M567.5 150.5L573 154.5L567.5 158.5L569.5 154.5z"/><path d="M439.5 250.5L445 254.5L439.5 258.5L441.5 254.5z"/><path d="M567.5 250.5L573 254.5L567.5 258.5L569.5 254.5z"/><path d="M826.5 250.5L832 254.5L826.5 258.5L828.5 254.5z"/><path d="M439.5 401.5L445 405.5L439.5 409.5L441.5 405.5z"/><path d="M566.5 351.5L572 355.5L566.5 359.5L568.5 355.5z"/><path d="M566.5 452.5L572 456.5L566.5 460.5L568.5 456.5z"/><path d="M697.0 351.5L702.5 355.5L697.0 359.5L699.0 355.5z"/><path d="M697.0 452.5L702.5 456.5L697.0 460.5L699.0 456.5z"/><path d="M826.5 401.5L832 405.5L826.5 409.5L828.5 405.5z"/><path d="M474.5 607.5L478.5 602L482.5 607.5L478.5 605.5z"/><path d="M861.5 471.5L865.5 466L869.5 471.5L865.5 469.5z"/></g></svg>
<div class="rl" style="left:42px;top:49.5px">项目预算</div>
<svg class="a" style="left:115px;top:51.5px" width="28" height="13" viewBox="0 0 28 13"><path d="M1 3.5h4v5H1zM7 3.5h7v5H7zM16 0.5l11 6-11 6z" fill="#dedede"/></svg>
<div class="rl" style="left:42px;top:151px">项目合同</div>
<svg class="a" style="left:115px;top:153px" width="28" height="13" viewBox="0 0 28 13"><path d="M1 3.5h4v5H1zM7 3.5h7v5H7zM16 0.5l11 6-11 6z" fill="#dedede"/></svg>
<div class="rl" style="left:42px;top:301px">采购管理</div>
<svg class="a" style="left:115px;top:303px" width="28" height="13" viewBox="0 0 28 13"><path d="M1 3.5h4v5H1zM7 3.5h7v5H7zM16 0.5l11 6-11 6z" fill="#dedede"/></svg>
<div class="rl" style="left:42px;top:509px">费用报销</div>
<svg class="a" style="left:115px;top:511px" width="28" height="13" viewBox="0 0 28 13"><path d="M1 3.5h4v5H1zM7 3.5h7v5H7zM16 0.5l11 6-11 6z" fill="#dedede"/></svg>
<div class="node" style="left:172.5px;top:38px;background:rgba(0,0,0,0.04);border:1px solid rgba(0,0,0,0.05)"><svg width="20" height="20" viewBox="0 0 20 20" style="left:7px;top:7px;color:#b5b5b5" fill="none" stroke="#b5b5b5" stroke-width="1.3"><path d="M9 18H3.2Q2 18 2 16.8V2.2Q2 1 3.2 1h9.6Q14 1 14 2.2V9"/><path d="M4.8 5h6.5M4.8 8h6.5M4.8 11h3.5"/><circle cx="14.5" cy="14.5" r="2"/><path d="M14.5 10.8v1.4M14.5 16.8v1.4M10.8 14.5h1.4M16.8 14.5h1.4M11.9 11.9l1 1M16.1 16.1l1 1M17.1 11.9l-1 1M12.9 16.1l-1 1"/></svg></div>
<div class="nl" style="left:140.5px;top:86px;color:#888">预算设置</div>
<div class="node" style="left:298.5px;top:38px;background:rgba(0,0,0,0.04);border:1px solid rgba(0,0,0,0.05)"><svg width="20" height="20" viewBox="0 0 20 20" style="left:7px;top:7px;color:#b5b5b5" fill="none" stroke="#b5b5b5" stroke-width="1.3"><path d="M3 1.5h14q1.5 0 1.5 1.5v10.5q0 1.5-1.5 1.5H3q-1.5 0-1.5-1.5V3q0-1.5 1.5-1.5z"/><path d="M4.5 16.8h11" stroke-width="2"/><path d="M5 9.5l2.5-2.5 2.5 2 2.5-2.5 2.5 2.5"/></svg></div>
<div class="nl" style="left:266.5px;top:86px;color:#888">预算编制</div>
<div class="node" style="left:427.5px;top:38.5px;background:rgba(0,0,0,0.04);border:1px solid rgba(0,0,0,0.05)"><svg width="20" height="20" viewBox="0 0 20 20" style="left:7px;top:7px;color:#b5b5b5" fill="none" stroke="#b5b5b5" stroke-width="1.3"><path d="M12 19H3.7Q2.2 19 2.2 17.5V3.7q0-1.5 1.5-1.5h11.8q1.5 0 1.5 1.5V10"/><path d="M6.8 5l2.7 3 2.7-3M6.5 8.7h6M6.5 10.9h6M9.5 8.5v4.5"/><path d="M14.3 19v-3M16.6 19v-5M18.9 19v-2.5"/></svg></div>
<div class="nl" style="left:395.5px;top:86.5px;color:#888">预算控制</div>
<div class="node" style="left:172.5px;top:138px;background:#eef6fe;border:1px solid #d4e8fb"><svg width="20" height="20" viewBox="0 0 20 20" style="left:7px;top:7px;color:#55a8f0" fill="none" stroke="#55a8f0" stroke-width="1.3"><path d="M5.6 3.5H4.1Q2.6 3.5 2.6 5v8"/><path d="M5.6 13V3q0-1.5 1.5-1.5h9.7q1.5 0 1.5 1.5v10"/><path d="M8.6 6.6h6M8.6 8.6h6"/><path d="M1.3 13h6.6q1 0 1.5 1t1.6 1q1 0 1.5-1t1.5-1h4.9v5.5H1.3z"/></svg></div>
<div class="nl" style="left:140.5px;top:186px;color:#333">项目立项</div>
<div class="node" style="left:298.5px;top:138px;background:#e6f7f5;border:1px solid #c3ebe5"><svg width="20" height="20" viewBox="0 0 20 20" style="left:7px;top:7px;color:#27b3a6" fill="none" stroke="#27b3a6" stroke-width="1.3"><path d="M9.5 18.7H3.2q-1.5 0-1.5-1.5V2.8q0-1.5 1.5-1.5h11.7q1.5 0 1.5 1.5V9"/><path d="M5.5 6h8M5.5 9.5h5M5.5 14h3"/><circle cx="14.5" cy="14.6" r="3.8"/><circle cx="14.5" cy="14.6" r="1.3" fill="currentColor" stroke="none"/></svg></div>
<div class="nl" style="left:266.5px;top:186px;color:#333">收入合同</div>
<div class="node" style="left:422.5px;top:138px;background:#fff3ec;border:1px solid #fcd9c6"><svg width="20" height="20" viewBox="0 0 20 20" style="left:7px;top:7px;color:#f6894f" fill="none" stroke="#f6894f" stroke-width="1.3"><path d="M5 2.2H4.2q-1 0-1 1v14.5q0 1 1 1h11.6q1 0 1-1V3.2q0-1-1-1H15"/><path d="M6.8 1.3h6.4" stroke-width="2"/><path d="M5.8 6.5l1.9 2.3 1.9-2.3M5.5 9h4.4M5.5 11h4.4M7.7 8.8v3.2"/><path d="M12 7.5h3.3M12 10h3.3M11 14.5h4.3"/><path d="M5.5 14l1.5 1.5 2.5-2.5"/></svg></div>
<div class="nl" style="left:390.5px;top:186px;color:#333">收入确认</div>
<div class="node" style="left:682.5px;top:138px;background:#effae8;border:1px solid #d6f0c6"><svg width="20" height="20" viewBox="0 0 20 20" style="left:7px;top:7px;color:#7cc845" fill="none" stroke="#7cc845" stroke-width="1.3"><path d="M3.2 4H5V2.6q0-1.5 1.5-1.5h7q1.5 0 1.5 1.5V4h1.7q1.5 0 1.5 1.5v12.2q0 1-1 1H3q-1 0-1-1V5.2Q2 4 3.2 4z"/><path d="M2 7.1h16.2"/><path d="M6 4.5h8.2" stroke-width="1.2" opacity=".6"/><path d="M8 9.5l2.6 2.8 2.6-2.8M7.8 12.6h5.6M7.8 14.6h5.6M10.6 12.3v3.8"/></svg></div>
<div class="nl" style="left:650.5px;top:186px;color:#333">收款</div>
<div class="node" style="left:298.5px;top:290px;background:#fff3ec;border:1px solid #fcd9c6"><svg width="20" height="20" viewBox="0 0 20 20" style="left:7px;top:7px;color:#f6894f" fill="none" stroke="#f6894f" stroke-width="1.3"><path d="M5 2.2H4.2q-1 0-1 1v14.7q0 1 1 1h11.6q1 0 1-1V3.2q0-1-1-1H15"/><path d="M6.8 1.3h6.4" stroke-width="2"/><path d="M7.8 6.5h4.6v3.8H7.8z" fill="currentColor"/><path d="M9 6.5V5.2h2.2v1.3"/><path d="M5.3 12.9h1M7.5 12.9h7.5M5.3 15.6h9.7"/></svg></div>
<div class="nl" style="left:266.5px;top:338px;color:#333">采购申请</div>
<div class="node" style="left:422.5px;top:239px;background:#effae8;border:1px solid #d6f0c6"><svg width="20" height="20" viewBox="0 0 20 20" style="left:7px;top:7px;color:#7cc845" fill="none" stroke="#7cc845" stroke-width="1.3"><path d="M9.6 18.7H3.3q-1.5 0-1.5-1.5V2.6q0-1.5 1.5-1.5h11.2q1.5 0 1.5 1.5v6"/><path d="M4.6 8h8.5l-3-3"/><path d="M4.6 12h4.5M4.6 14.6h4.5"/><circle cx="14.6" cy="14.4" r="3.6"/><circle cx="14.6" cy="14.4" r="1.3" fill="currentColor" stroke="none"/></svg></div>
<div class="nl" style="left:390.5px;top:287px;color:#333">支出合同</div>
<div class="node" style="left:556.5px;top:239px;background:#eef6fe;border:1px solid #d4e8fb"><svg width="20" height="20" viewBox="0 0 20 20" style="left:7px;top:7px;color:#55a8f0" fill="none" stroke="#55a8f0" stroke-width="1.3"><path d="M9.6 17.6H2.2V1.1h11.4l3.8 4.4v6.3"/><path d="M13.6 1.1v4.4h3.8"/><path d="M5.6 6.5h4M5.6 9.8h7.5M5.6 13.2h3.5"/><path d="M10.1 15.5h7.3M15.2 13.2l2.3 2.3-2.3 2.3"/></svg></div>
<div class="nl" style="left:524.5px;top:287px;color:#333">支出确认单</div>
<div class="node" style="left:682.5px;top:290px;background:#fdeeee;border:1px solid #f8d3d3"><svg width="20" height="20" viewBox="0 0 20 20" style="left:7px;top:7px;color:#ef5d5d" fill="none" stroke="#ef5d5d" stroke-width="1.3"><path d="M12 17.8H3.3q-2 0-2-2V3.1q0-2 2-2h15.6q2 0 2 2v8.7"/><path d="M1.3 6.2h19.6M4 4.1h3"/><path d="M8.5 9l2.5 2.5 2.5-2.5M8.5 12.3h5M8.5 14.3h5M11 11.5v3.5"/><path d="M15 16.3h5.8M18.5 14l2.3 2.3-2.3 2.3"/></svg></div>
<div class="nl" style="left:650.5px;top:338px;color:#333">付款</div>
<div class="node" style="left:422.5px;top:340px;background:#f4f1fe;border:1px solid #e1d8fa"><svg width="20" height="20" viewBox="0 0 20 20" style="left:7px;top:7px;color:#9b7ceb" fill="none" stroke="#9b7ceb" stroke-width="1.3"><path d="M5 2.2H3.8q-1 0-1 1v14.5q0 1 1 1h13.4q1 0 1-1V3.2q0-1-1-1H16"/><path d="M6.8 1.3h6.4" stroke-width="2"/><path d="M2.8 5.8h15.4"/><path d="M5.3 9l1.5 1.5 2.3-2.3M5.3 12.3l1.5 1.5 2.3-2.3"/><path d="M10.6 9.6h4.5M10.6 12.9h4.5"/></svg></div>
<div class="nl" style="left:390.5px;top:388px;color:#333">采购订单</div>
<div class="node" style="left:556.5px;top:340px;background:#e6f7f5;border:1px solid #c3ebe5"><svg width="20" height="20" viewBox="0 0 20 20" style="left:7px;top:7px;color:#27b3a6" fill="none" stroke="#27b3a6" stroke-width="1.3"><path d="M7.6 18.8H3.5Q2 18.8 2 17.3V2.6Q2 1.1 3.5 1.1h12Q17 1.1 17 2.6v7.9"/><path d="M2 4.8h15"/><path d="M5.3 8.3h3.8M5.3 11.3h1.8"/><path d="M9.6 12h8.5v6.8H9.6zM9.6 15.4h8.5"/></svg></div>
<div class="nl" style="left:524.5px;top:388px;color:#333">进货单</div>
<div class="node" style="left:172.5px;top:441px;background:#e6f7f5;border:1px solid #c3ebe5"><svg width="20" height="20" viewBox="0 0 20 20" style="left:7px;top:7px;color:#27b3a6" fill="none" stroke="#27b3a6" stroke-width="1.3"><path d="M3.3 1.1h13.4q2 0 2 2v13.6q0 2-2 2H3.3q-2 0-2-2V3.1q0-2 2-2z"/><path d="M1.3 6.2h17.4"/><path d="M5.6 10.2h.8M7.8 10.2h7M5.6 14h.8M7.8 14h7"/></svg></div>
<div class="nl" style="left:140.5px;top:489px;color:#333">项目</div>
<div class="node" style="left:298.5px;top:441px;background:#fff3ec;border:1px solid #fcd9c6"><svg width="20" height="20" viewBox="0 0 20 20" style="left:7px;top:7px;color:#f6894f" fill="none" stroke="#f6894f" stroke-width="1.3"><path d="M5 2.2H4.2q-1 0-1 1v14.7q0 1 1 1h11.6q1 0 1-1V3.2q0-1-1-1H15"/><path d="M6.8 1.3h6.4" stroke-width="2"/><path d="M7.3 6.2l2.6 2.8 2.6-2.8M7.1 9.3h5.6M7.1 11.3h5.6M9.9 9v3.5"/><path d="M5.4 15.3h9.4M12.6 13l2.3 2.3-2.3 2.3"/></svg></div>
<div class="nl" style="left:266.5px;top:489px;color:#333">费用支出</div>
<div class="node" style="left:172.5px;top:542px;background:#e6f7f5;border:1px solid #c3ebe5"><svg width="20" height="20" viewBox="0 0 20 20" style="left:7px;top:7px;color:#27b3a6" fill="none" stroke="#27b3a6" stroke-width="1.3"><path d="M9.5 18.7H3.2q-1.5 0-1.5-1.5V2.8q0-1.5 1.5-1.5h11.7q1.5 0 1.5 1.5V9"/><path d="M5.5 6h8M5.5 9.5h5M5.5 14h3"/><circle cx="14.5" cy="14.6" r="3.8"/><circle cx="14.5" cy="14.6" r="1.3" fill="currentColor" stroke="none"/></svg></div>
<div class="nl" style="left:140.5px;top:590px;color:#333">收入合同</div>
<div class="node" style="left:298.5px;top:542px;background:#effae8;border:1px solid #d6f0c6"><svg width="20" height="20" viewBox="0 0 20 20" style="left:7px;top:7px;color:#7cc845" fill="none" stroke="#7cc845" stroke-width="1.3"><path d="M2 18.5V3.1Q2 1.1 4 1.1h12.2q2 0 2 2v15.4"/><path d="M2 18.5l1.8-1.8 2 1.8 2-1.8 2 1.8 2-1.8 2 1.8"/><path d="M5.1 5.3h8M5.1 7.6h4"/><path d="M10.3 8.2l2.4 2.5 2.4-2.5M10 11.2h5.4M10 13.2h5.4M12.7 11v4"/></svg></div>
<div class="nl" style="left:266.5px;top:590px;color:#333">报销单</div>
<div class="t" style="left:370px;top:241px;font-size:12px;color:#888">分包</div>
<div class="t" style="left:359px;top:365px;font-size:12px;color:#888">材料采购</div>
<div class="t" style="left:248px;top:496px;font-size:12px;color:#888;line-height:17px;width:12px;white-space:normal">关联</div>
<div class="t" style="left:849px;top:112.5px;font-size:15px;letter-spacing:1px;color:#444">数据统计</div>
<svg class="a" style="left:872px;top:138px" width="17" height="28" viewBox="0 0 17 28"><path d="M6.3 1h4.4v4h-4.4zM6.3 6.2h4.4v6.3h-4.4zM2.8 15.7h11.4L8.5 27z" fill="#dedede"/></svg>
<div class="btn" style="left:813px;top:178px">项目看板</div>
<div class="btn" style="left:813px;top:230px">收入合同看板</div>
<div class="btn" style="left:813px;top:282px">支出合同看板</div>
<div class="btn" style="left:813px;top:334px">收入合同工作台</div>
<div class="btn" style="left:813px;top:386px">支出合同工作台</div>
<div class="btn" style="left:813px;top:438px">收入合同统计表</div>
<div class="btn" style="left:813px;top:490px">支出合同统计表</div>
<div class="btn" style="left:813px;top:542px">收入合同执行表</div>
<div class="btn" style="left:813px;top:594px">项目预算执行表</div>
<div class="btn" style="left:813px;top:646px">预算成本分析对比表</div>
</div>
</body></html>
